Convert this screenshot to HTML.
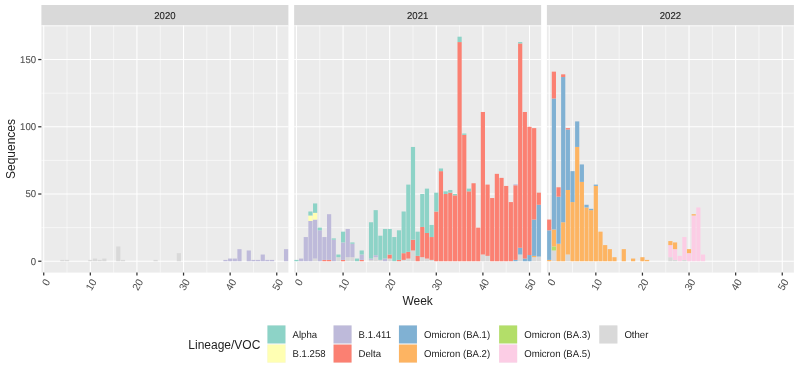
<!DOCTYPE html>
<html><head><meta charset="utf-8"><style>
html,body{margin:0;padding:0;background:#fff;}
body{width:800px;height:375px;position:relative;overflow:hidden;font-family:"Liberation Sans",sans-serif;}
svg text{font-family:"Liberation Sans",sans-serif;}
</style></head><body>
<svg width="800" height="375" viewBox="0 0 800 375" style="position:absolute;left:0;top:0;filter:blur(0.45px)">
<rect x="41.40" y="5.0" width="247.0" height="20.40" fill="#D9D9D9"/>
<rect x="41.40" y="25.4" width="247.0" height="247.20" fill="#EBEBEB"/>
<line x1="41.40" x2="288.40" y1="227.62" y2="227.62" stroke="#fff" stroke-width="0.55"/>
<line x1="41.40" x2="288.40" y1="160.40" y2="160.40" stroke="#fff" stroke-width="0.55"/>
<line x1="41.40" x2="288.40" y1="93.17" y2="93.17" stroke="#fff" stroke-width="0.55"/>
<line x1="41.40" x2="288.40" y1="25.94" y2="25.94" stroke="#fff" stroke-width="0.55"/>
<line x1="67.03" x2="67.03" y1="25.4" y2="272.6" stroke="#fff" stroke-width="0.55"/>
<line x1="113.64" x2="113.64" y1="25.4" y2="272.6" stroke="#fff" stroke-width="0.55"/>
<line x1="160.24" x2="160.24" y1="25.4" y2="272.6" stroke="#fff" stroke-width="0.55"/>
<line x1="206.84" x2="206.84" y1="25.4" y2="272.6" stroke="#fff" stroke-width="0.55"/>
<line x1="253.45" x2="253.45" y1="25.4" y2="272.6" stroke="#fff" stroke-width="0.55"/>
<line x1="41.40" x2="288.40" y1="261.24" y2="261.24" stroke="#fff" stroke-width="1.07"/>
<line x1="41.40" x2="288.40" y1="194.01" y2="194.01" stroke="#fff" stroke-width="1.07"/>
<line x1="41.40" x2="288.40" y1="126.78" y2="126.78" stroke="#fff" stroke-width="1.07"/>
<line x1="41.40" x2="288.40" y1="59.55" y2="59.55" stroke="#fff" stroke-width="1.07"/>
<line x1="43.73" x2="43.73" y1="25.4" y2="272.6" stroke="#fff" stroke-width="1.07"/>
<line x1="90.33" x2="90.33" y1="25.4" y2="272.6" stroke="#fff" stroke-width="1.07"/>
<line x1="136.94" x2="136.94" y1="25.4" y2="272.6" stroke="#fff" stroke-width="1.07"/>
<line x1="183.54" x2="183.54" y1="25.4" y2="272.6" stroke="#fff" stroke-width="1.07"/>
<line x1="230.15" x2="230.15" y1="25.4" y2="272.6" stroke="#fff" stroke-width="1.07"/>
<line x1="276.75" x2="276.75" y1="25.4" y2="272.6" stroke="#fff" stroke-width="1.07"/>
<rect x="60.27" y="259.90" width="4.19" height="1.34" fill="#D9D9D9"/>
<rect x="64.93" y="259.90" width="4.19" height="1.34" fill="#D9D9D9"/>
<rect x="88.24" y="259.90" width="4.19" height="1.34" fill="#D9D9D9"/>
<rect x="92.90" y="258.55" width="4.19" height="2.69" fill="#D9D9D9"/>
<rect x="97.56" y="259.90" width="4.19" height="1.34" fill="#D9D9D9"/>
<rect x="102.22" y="258.55" width="4.19" height="2.69" fill="#D9D9D9"/>
<rect x="116.20" y="246.45" width="4.19" height="14.79" fill="#D9D9D9"/>
<rect x="120.86" y="259.90" width="4.19" height="1.34" fill="#D9D9D9"/>
<rect x="153.48" y="259.90" width="4.19" height="1.34" fill="#D9D9D9"/>
<rect x="176.78" y="253.17" width="4.19" height="8.07" fill="#D9D9D9"/>
<rect x="223.39" y="259.90" width="4.19" height="1.34" fill="#BEBADA"/>
<rect x="228.05" y="258.55" width="4.19" height="2.69" fill="#BEBADA"/>
<rect x="232.71" y="258.55" width="4.19" height="2.69" fill="#BEBADA"/>
<rect x="237.37" y="249.14" width="4.19" height="12.10" fill="#BEBADA"/>
<rect x="246.69" y="250.48" width="4.19" height="10.76" fill="#BEBADA"/>
<rect x="251.35" y="259.90" width="4.19" height="1.34" fill="#BEBADA"/>
<rect x="256.01" y="259.90" width="4.19" height="1.34" fill="#BEBADA"/>
<rect x="260.67" y="254.52" width="4.19" height="6.72" fill="#BEBADA"/>
<rect x="265.33" y="259.90" width="4.19" height="1.34" fill="#BEBADA"/>
<rect x="269.99" y="259.90" width="4.19" height="1.34" fill="#BEBADA"/>
<rect x="283.97" y="249.14" width="4.19" height="12.10" fill="#BEBADA"/>
<g transform="translate(164.90,18.60) scale(0.97,1) skewX(0.1)"><text x="0" y="0" font-size="9.9" fill="#1A1A1A" stroke="#1A1A1A" stroke-width="0.1" text-anchor="middle" >2020</text></g>
<line x1="43.73" x2="43.73" y1="272.6" y2="275.60" stroke="#333" stroke-width="1.25"/>
<g transform="translate(44.13,278.00) rotate(-60) scale(0.97,1) skewX(0.1)"><text x="0" y="0" font-size="10.4" fill="#4D4D4D" stroke="#4D4D4D" stroke-width="0" text-anchor="end" dominant-baseline="hanging">0</text></g>
<line x1="90.33" x2="90.33" y1="272.6" y2="275.60" stroke="#333" stroke-width="1.25"/>
<g transform="translate(90.73,278.00) rotate(-60) scale(0.97,1) skewX(0.1)"><text x="0" y="0" font-size="10.4" fill="#4D4D4D" stroke="#4D4D4D" stroke-width="0" text-anchor="end" dominant-baseline="hanging">10</text></g>
<line x1="136.94" x2="136.94" y1="272.6" y2="275.60" stroke="#333" stroke-width="1.25"/>
<g transform="translate(137.34,278.00) rotate(-60) scale(0.97,1) skewX(0.1)"><text x="0" y="0" font-size="10.4" fill="#4D4D4D" stroke="#4D4D4D" stroke-width="0" text-anchor="end" dominant-baseline="hanging">20</text></g>
<line x1="183.54" x2="183.54" y1="272.6" y2="275.60" stroke="#333" stroke-width="1.25"/>
<g transform="translate(183.94,278.00) rotate(-60) scale(0.97,1) skewX(0.1)"><text x="0" y="0" font-size="10.4" fill="#4D4D4D" stroke="#4D4D4D" stroke-width="0" text-anchor="end" dominant-baseline="hanging">30</text></g>
<line x1="230.15" x2="230.15" y1="272.6" y2="275.60" stroke="#333" stroke-width="1.25"/>
<g transform="translate(230.55,278.00) rotate(-60) scale(0.97,1) skewX(0.1)"><text x="0" y="0" font-size="10.4" fill="#4D4D4D" stroke="#4D4D4D" stroke-width="0" text-anchor="end" dominant-baseline="hanging">40</text></g>
<line x1="276.75" x2="276.75" y1="272.6" y2="275.60" stroke="#333" stroke-width="1.25"/>
<g transform="translate(277.15,278.00) rotate(-60) scale(0.97,1) skewX(0.1)"><text x="0" y="0" font-size="10.4" fill="#4D4D4D" stroke="#4D4D4D" stroke-width="0" text-anchor="end" dominant-baseline="hanging">50</text></g>
<rect x="294.15" y="5.0" width="247.0" height="20.40" fill="#D9D9D9"/>
<rect x="294.15" y="25.4" width="247.0" height="247.20" fill="#EBEBEB"/>
<line x1="294.15" x2="541.15" y1="227.62" y2="227.62" stroke="#fff" stroke-width="0.55"/>
<line x1="294.15" x2="541.15" y1="160.40" y2="160.40" stroke="#fff" stroke-width="0.55"/>
<line x1="294.15" x2="541.15" y1="93.17" y2="93.17" stroke="#fff" stroke-width="0.55"/>
<line x1="294.15" x2="541.15" y1="25.94" y2="25.94" stroke="#fff" stroke-width="0.55"/>
<line x1="319.78" x2="319.78" y1="25.4" y2="272.6" stroke="#fff" stroke-width="0.55"/>
<line x1="366.39" x2="366.39" y1="25.4" y2="272.6" stroke="#fff" stroke-width="0.55"/>
<line x1="412.99" x2="412.99" y1="25.4" y2="272.6" stroke="#fff" stroke-width="0.55"/>
<line x1="459.59" x2="459.59" y1="25.4" y2="272.6" stroke="#fff" stroke-width="0.55"/>
<line x1="506.20" x2="506.20" y1="25.4" y2="272.6" stroke="#fff" stroke-width="0.55"/>
<line x1="294.15" x2="541.15" y1="261.24" y2="261.24" stroke="#fff" stroke-width="1.07"/>
<line x1="294.15" x2="541.15" y1="194.01" y2="194.01" stroke="#fff" stroke-width="1.07"/>
<line x1="294.15" x2="541.15" y1="126.78" y2="126.78" stroke="#fff" stroke-width="1.07"/>
<line x1="294.15" x2="541.15" y1="59.55" y2="59.55" stroke="#fff" stroke-width="1.07"/>
<line x1="296.48" x2="296.48" y1="25.4" y2="272.6" stroke="#fff" stroke-width="1.07"/>
<line x1="343.08" x2="343.08" y1="25.4" y2="272.6" stroke="#fff" stroke-width="1.07"/>
<line x1="389.69" x2="389.69" y1="25.4" y2="272.6" stroke="#fff" stroke-width="1.07"/>
<line x1="436.29" x2="436.29" y1="25.4" y2="272.6" stroke="#fff" stroke-width="1.07"/>
<line x1="482.90" x2="482.90" y1="25.4" y2="272.6" stroke="#fff" stroke-width="1.07"/>
<line x1="529.50" x2="529.50" y1="25.4" y2="272.6" stroke="#fff" stroke-width="1.07"/>
<rect x="294.38" y="259.90" width="4.19" height="1.34" fill="#8DD3C7"/>
<rect x="299.04" y="258.55" width="4.19" height="2.69" fill="#BEBADA"/>
<rect x="303.70" y="237.04" width="4.19" height="24.20" fill="#BEBADA"/>
<rect x="308.36" y="220.90" width="4.19" height="40.34" fill="#BEBADA"/>
<rect x="308.36" y="215.52" width="4.19" height="5.38" fill="#FFFFB3"/>
<rect x="308.36" y="211.49" width="4.19" height="4.03" fill="#8DD3C7"/>
<rect x="313.02" y="258.55" width="4.19" height="2.69" fill="#D9D9D9"/>
<rect x="313.02" y="219.56" width="4.19" height="38.99" fill="#BEBADA"/>
<rect x="313.02" y="212.83" width="4.19" height="6.72" fill="#FFFFB3"/>
<rect x="313.02" y="203.42" width="4.19" height="9.41" fill="#8DD3C7"/>
<rect x="317.68" y="230.31" width="4.19" height="30.93" fill="#BEBADA"/>
<rect x="317.68" y="227.62" width="4.19" height="2.69" fill="#8DD3C7"/>
<rect x="322.35" y="259.90" width="4.19" height="1.34" fill="#FB8072"/>
<rect x="322.35" y="237.04" width="4.19" height="22.86" fill="#BEBADA"/>
<rect x="327.01" y="259.90" width="4.19" height="1.34" fill="#FB8072"/>
<rect x="327.01" y="214.18" width="4.19" height="45.72" fill="#BEBADA"/>
<rect x="331.67" y="239.73" width="4.19" height="21.51" fill="#BEBADA"/>
<rect x="331.67" y="238.38" width="4.19" height="1.34" fill="#8DD3C7"/>
<rect x="336.33" y="257.21" width="4.19" height="4.03" fill="#D9D9D9"/>
<rect x="336.33" y="254.52" width="4.19" height="2.69" fill="#8DD3C7"/>
<rect x="340.99" y="259.90" width="4.19" height="1.34" fill="#FB8072"/>
<rect x="340.99" y="242.42" width="4.19" height="17.48" fill="#BEBADA"/>
<rect x="340.99" y="231.66" width="4.19" height="10.76" fill="#8DD3C7"/>
<rect x="345.65" y="257.21" width="4.19" height="4.03" fill="#D9D9D9"/>
<rect x="345.65" y="228.97" width="4.19" height="28.24" fill="#BEBADA"/>
<rect x="350.31" y="257.21" width="4.19" height="4.03" fill="#D9D9D9"/>
<rect x="350.31" y="243.76" width="4.19" height="13.45" fill="#BEBADA"/>
<rect x="350.31" y="242.42" width="4.19" height="1.34" fill="#8DD3C7"/>
<rect x="354.97" y="258.55" width="4.19" height="2.69" fill="#8DD3C7"/>
<rect x="359.63" y="259.90" width="4.19" height="1.34" fill="#FB8072"/>
<rect x="359.63" y="254.52" width="4.19" height="5.38" fill="#BEBADA"/>
<rect x="359.63" y="250.48" width="4.19" height="4.03" fill="#8DD3C7"/>
<rect x="368.95" y="259.90" width="4.19" height="1.34" fill="#D9D9D9"/>
<rect x="368.95" y="258.55" width="4.19" height="1.34" fill="#BEBADA"/>
<rect x="368.95" y="222.25" width="4.19" height="36.30" fill="#8DD3C7"/>
<rect x="373.61" y="257.21" width="4.19" height="4.03" fill="#D9D9D9"/>
<rect x="373.61" y="255.19" width="4.19" height="2.02" fill="#BEBADA"/>
<rect x="373.61" y="210.15" width="4.19" height="45.04" fill="#8DD3C7"/>
<rect x="378.27" y="259.90" width="4.19" height="1.34" fill="#D9D9D9"/>
<rect x="378.27" y="235.69" width="4.19" height="24.20" fill="#8DD3C7"/>
<rect x="382.93" y="258.55" width="4.19" height="2.69" fill="#BEBADA"/>
<rect x="382.93" y="228.97" width="4.19" height="29.58" fill="#8DD3C7"/>
<rect x="387.59" y="258.55" width="4.19" height="2.69" fill="#D9D9D9"/>
<rect x="387.59" y="254.52" width="4.19" height="4.03" fill="#FB8072"/>
<rect x="387.59" y="228.97" width="4.19" height="25.55" fill="#8DD3C7"/>
<rect x="392.25" y="237.04" width="4.19" height="24.20" fill="#8DD3C7"/>
<rect x="396.91" y="259.90" width="4.19" height="1.34" fill="#FB8072"/>
<rect x="396.91" y="230.31" width="4.19" height="29.58" fill="#8DD3C7"/>
<rect x="401.57" y="259.90" width="4.19" height="1.34" fill="#D9D9D9"/>
<rect x="401.57" y="253.17" width="4.19" height="6.72" fill="#FB8072"/>
<rect x="401.57" y="211.49" width="4.19" height="41.68" fill="#8DD3C7"/>
<rect x="406.23" y="258.55" width="4.19" height="2.69" fill="#D9D9D9"/>
<rect x="406.23" y="251.83" width="4.19" height="6.72" fill="#FB8072"/>
<rect x="406.23" y="184.60" width="4.19" height="67.23" fill="#8DD3C7"/>
<rect x="410.89" y="250.48" width="4.19" height="10.76" fill="#D9D9D9"/>
<rect x="410.89" y="239.73" width="4.19" height="10.76" fill="#FB8072"/>
<rect x="410.89" y="146.95" width="4.19" height="92.78" fill="#8DD3C7"/>
<rect x="415.55" y="255.86" width="4.19" height="5.38" fill="#FB8072"/>
<rect x="415.55" y="231.66" width="4.19" height="24.20" fill="#8DD3C7"/>
<rect x="420.21" y="257.21" width="4.19" height="4.03" fill="#D9D9D9"/>
<rect x="420.21" y="226.95" width="4.19" height="30.25" fill="#FB8072"/>
<rect x="420.21" y="194.01" width="4.19" height="32.94" fill="#8DD3C7"/>
<rect x="424.87" y="258.55" width="4.19" height="2.69" fill="#D9D9D9"/>
<rect x="424.87" y="233.00" width="4.19" height="25.55" fill="#FB8072"/>
<rect x="424.87" y="188.63" width="4.19" height="44.37" fill="#8DD3C7"/>
<rect x="429.53" y="259.90" width="4.19" height="1.34" fill="#D9D9D9"/>
<rect x="429.53" y="237.04" width="4.19" height="22.86" fill="#FB8072"/>
<rect x="429.53" y="224.94" width="4.19" height="12.10" fill="#8DD3C7"/>
<rect x="434.19" y="211.49" width="4.19" height="49.75" fill="#FB8072"/>
<rect x="434.19" y="192.67" width="4.19" height="18.82" fill="#8DD3C7"/>
<rect x="438.85" y="171.15" width="4.19" height="90.09" fill="#FB8072"/>
<rect x="438.85" y="168.46" width="4.19" height="2.69" fill="#8DD3C7"/>
<rect x="443.52" y="194.01" width="4.19" height="67.23" fill="#FB8072"/>
<rect x="443.52" y="191.32" width="4.19" height="2.69" fill="#8DD3C7"/>
<rect x="448.18" y="192.67" width="4.19" height="68.57" fill="#FB8072"/>
<rect x="448.18" y="189.98" width="4.19" height="2.69" fill="#8DD3C7"/>
<rect x="452.84" y="195.35" width="4.19" height="65.89" fill="#FB8072"/>
<rect x="452.84" y="194.01" width="4.19" height="1.34" fill="#8DD3C7"/>
<rect x="457.50" y="42.07" width="4.19" height="219.17" fill="#FB8072"/>
<rect x="457.50" y="36.69" width="4.19" height="5.38" fill="#8DD3C7"/>
<rect x="462.16" y="134.85" width="4.19" height="126.39" fill="#FB8072"/>
<rect x="462.16" y="133.50" width="4.19" height="1.34" fill="#8DD3C7"/>
<rect x="466.82" y="191.32" width="4.19" height="69.92" fill="#FB8072"/>
<rect x="466.82" y="188.63" width="4.19" height="2.69" fill="#8DD3C7"/>
<rect x="471.48" y="183.25" width="4.19" height="77.99" fill="#FB8072"/>
<rect x="476.14" y="227.62" width="4.19" height="33.62" fill="#FB8072"/>
<rect x="480.80" y="254.52" width="4.19" height="6.72" fill="#D9D9D9"/>
<rect x="480.80" y="111.99" width="4.19" height="142.53" fill="#FB8072"/>
<rect x="485.46" y="255.86" width="4.19" height="5.38" fill="#D9D9D9"/>
<rect x="485.46" y="184.60" width="4.19" height="71.26" fill="#FB8072"/>
<rect x="490.12" y="198.04" width="4.19" height="63.20" fill="#FB8072"/>
<rect x="494.78" y="173.84" width="4.19" height="87.40" fill="#FB8072"/>
<rect x="499.44" y="177.87" width="4.19" height="83.37" fill="#FB8072"/>
<rect x="504.10" y="185.94" width="4.19" height="75.30" fill="#FB8072"/>
<rect x="508.76" y="202.08" width="4.19" height="59.16" fill="#FB8072"/>
<rect x="513.42" y="259.90" width="4.19" height="1.34" fill="#80B1D3"/>
<rect x="513.42" y="185.27" width="4.19" height="74.63" fill="#FB8072"/>
<rect x="513.42" y="184.33" width="4.19" height="0.94" fill="#BEBADA"/>
<rect x="518.08" y="254.52" width="4.19" height="6.72" fill="#D9D9D9"/>
<rect x="518.08" y="247.79" width="4.19" height="6.72" fill="#80B1D3"/>
<rect x="518.08" y="43.41" width="4.19" height="204.38" fill="#FB8072"/>
<rect x="518.08" y="42.07" width="4.19" height="1.34" fill="#8DD3C7"/>
<rect x="522.74" y="258.55" width="4.19" height="2.69" fill="#80B1D3"/>
<rect x="522.74" y="111.99" width="4.19" height="146.56" fill="#FB8072"/>
<rect x="527.40" y="255.05" width="4.19" height="6.19" fill="#80B1D3"/>
<rect x="527.40" y="126.78" width="4.19" height="128.27" fill="#FB8072"/>
<rect x="532.06" y="257.21" width="4.19" height="4.03" fill="#D9D9D9"/>
<rect x="532.06" y="255.86" width="4.19" height="1.34" fill="#FDB462"/>
<rect x="532.06" y="219.56" width="4.19" height="36.30" fill="#80B1D3"/>
<rect x="532.06" y="128.12" width="4.19" height="91.43" fill="#FB8072"/>
<rect x="536.72" y="256.53" width="4.19" height="4.71" fill="#D9D9D9"/>
<rect x="536.72" y="204.77" width="4.19" height="51.77" fill="#80B1D3"/>
<rect x="536.72" y="192.67" width="4.19" height="12.10" fill="#FB8072"/>
<g transform="translate(417.65,18.60) scale(0.97,1) skewX(0.1)"><text x="0" y="0" font-size="9.9" fill="#1A1A1A" stroke="#1A1A1A" stroke-width="0.1" text-anchor="middle" >2021</text></g>
<line x1="296.48" x2="296.48" y1="272.6" y2="275.60" stroke="#333" stroke-width="1.25"/>
<g transform="translate(296.88,278.00) rotate(-60) scale(0.97,1) skewX(0.1)"><text x="0" y="0" font-size="10.4" fill="#4D4D4D" stroke="#4D4D4D" stroke-width="0" text-anchor="end" dominant-baseline="hanging">0</text></g>
<line x1="343.08" x2="343.08" y1="272.6" y2="275.60" stroke="#333" stroke-width="1.25"/>
<g transform="translate(343.48,278.00) rotate(-60) scale(0.97,1) skewX(0.1)"><text x="0" y="0" font-size="10.4" fill="#4D4D4D" stroke="#4D4D4D" stroke-width="0" text-anchor="end" dominant-baseline="hanging">10</text></g>
<line x1="389.69" x2="389.69" y1="272.6" y2="275.60" stroke="#333" stroke-width="1.25"/>
<g transform="translate(390.09,278.00) rotate(-60) scale(0.97,1) skewX(0.1)"><text x="0" y="0" font-size="10.4" fill="#4D4D4D" stroke="#4D4D4D" stroke-width="0" text-anchor="end" dominant-baseline="hanging">20</text></g>
<line x1="436.29" x2="436.29" y1="272.6" y2="275.60" stroke="#333" stroke-width="1.25"/>
<g transform="translate(436.69,278.00) rotate(-60) scale(0.97,1) skewX(0.1)"><text x="0" y="0" font-size="10.4" fill="#4D4D4D" stroke="#4D4D4D" stroke-width="0" text-anchor="end" dominant-baseline="hanging">30</text></g>
<line x1="482.90" x2="482.90" y1="272.6" y2="275.60" stroke="#333" stroke-width="1.25"/>
<g transform="translate(483.30,278.00) rotate(-60) scale(0.97,1) skewX(0.1)"><text x="0" y="0" font-size="10.4" fill="#4D4D4D" stroke="#4D4D4D" stroke-width="0" text-anchor="end" dominant-baseline="hanging">40</text></g>
<line x1="529.50" x2="529.50" y1="272.6" y2="275.60" stroke="#333" stroke-width="1.25"/>
<g transform="translate(529.90,278.00) rotate(-60) scale(0.97,1) skewX(0.1)"><text x="0" y="0" font-size="10.4" fill="#4D4D4D" stroke="#4D4D4D" stroke-width="0" text-anchor="end" dominant-baseline="hanging">50</text></g>
<rect x="546.90" y="5.0" width="247.0" height="20.40" fill="#D9D9D9"/>
<rect x="546.90" y="25.4" width="247.0" height="247.20" fill="#EBEBEB"/>
<line x1="546.90" x2="793.90" y1="227.62" y2="227.62" stroke="#fff" stroke-width="0.55"/>
<line x1="546.90" x2="793.90" y1="160.40" y2="160.40" stroke="#fff" stroke-width="0.55"/>
<line x1="546.90" x2="793.90" y1="93.17" y2="93.17" stroke="#fff" stroke-width="0.55"/>
<line x1="546.90" x2="793.90" y1="25.94" y2="25.94" stroke="#fff" stroke-width="0.55"/>
<line x1="572.53" x2="572.53" y1="25.4" y2="272.6" stroke="#fff" stroke-width="0.55"/>
<line x1="619.14" x2="619.14" y1="25.4" y2="272.6" stroke="#fff" stroke-width="0.55"/>
<line x1="665.74" x2="665.74" y1="25.4" y2="272.6" stroke="#fff" stroke-width="0.55"/>
<line x1="712.34" x2="712.34" y1="25.4" y2="272.6" stroke="#fff" stroke-width="0.55"/>
<line x1="758.95" x2="758.95" y1="25.4" y2="272.6" stroke="#fff" stroke-width="0.55"/>
<line x1="546.90" x2="793.90" y1="261.24" y2="261.24" stroke="#fff" stroke-width="1.07"/>
<line x1="546.90" x2="793.90" y1="194.01" y2="194.01" stroke="#fff" stroke-width="1.07"/>
<line x1="546.90" x2="793.90" y1="126.78" y2="126.78" stroke="#fff" stroke-width="1.07"/>
<line x1="546.90" x2="793.90" y1="59.55" y2="59.55" stroke="#fff" stroke-width="1.07"/>
<line x1="549.23" x2="549.23" y1="25.4" y2="272.6" stroke="#fff" stroke-width="1.07"/>
<line x1="595.83" x2="595.83" y1="25.4" y2="272.6" stroke="#fff" stroke-width="1.07"/>
<line x1="642.44" x2="642.44" y1="25.4" y2="272.6" stroke="#fff" stroke-width="1.07"/>
<line x1="689.04" x2="689.04" y1="25.4" y2="272.6" stroke="#fff" stroke-width="1.07"/>
<line x1="735.65" x2="735.65" y1="25.4" y2="272.6" stroke="#fff" stroke-width="1.07"/>
<line x1="782.25" x2="782.25" y1="25.4" y2="272.6" stroke="#fff" stroke-width="1.07"/>
<rect x="547.13" y="259.90" width="4.19" height="1.34" fill="#FDB462"/>
<rect x="547.13" y="230.31" width="4.19" height="29.58" fill="#80B1D3"/>
<rect x="547.13" y="219.56" width="4.19" height="10.76" fill="#FB8072"/>
<rect x="551.79" y="250.48" width="4.19" height="10.76" fill="#D9D9D9"/>
<rect x="551.79" y="246.45" width="4.19" height="4.03" fill="#B3DE69"/>
<rect x="551.79" y="229.51" width="4.19" height="16.94" fill="#FDB462"/>
<rect x="551.79" y="98.54" width="4.19" height="130.96" fill="#80B1D3"/>
<rect x="551.79" y="71.65" width="4.19" height="26.89" fill="#FB8072"/>
<rect x="556.45" y="243.76" width="4.19" height="17.48" fill="#FDB462"/>
<rect x="556.45" y="196.70" width="4.19" height="47.06" fill="#80B1D3"/>
<rect x="556.45" y="187.29" width="4.19" height="9.41" fill="#FB8072"/>
<rect x="561.11" y="222.25" width="4.19" height="38.99" fill="#FDB462"/>
<rect x="561.11" y="77.03" width="4.19" height="145.22" fill="#80B1D3"/>
<rect x="561.11" y="74.34" width="4.19" height="2.69" fill="#FB8072"/>
<rect x="565.77" y="254.52" width="4.19" height="6.72" fill="#D9D9D9"/>
<rect x="565.77" y="189.98" width="4.19" height="64.54" fill="#FDB462"/>
<rect x="565.77" y="129.47" width="4.19" height="60.51" fill="#80B1D3"/>
<rect x="565.77" y="128.12" width="4.19" height="1.34" fill="#FB8072"/>
<rect x="570.43" y="202.08" width="4.19" height="59.16" fill="#FDB462"/>
<rect x="570.43" y="171.15" width="4.19" height="30.93" fill="#80B1D3"/>
<rect x="575.10" y="146.95" width="4.19" height="114.29" fill="#FDB462"/>
<rect x="575.10" y="121.40" width="4.19" height="25.55" fill="#80B1D3"/>
<rect x="579.76" y="181.91" width="4.19" height="79.33" fill="#FDB462"/>
<rect x="579.76" y="164.43" width="4.19" height="17.48" fill="#80B1D3"/>
<rect x="584.42" y="207.46" width="4.19" height="53.78" fill="#FDB462"/>
<rect x="584.42" y="204.77" width="4.19" height="2.69" fill="#80B1D3"/>
<rect x="589.08" y="210.15" width="4.19" height="51.09" fill="#FDB462"/>
<rect x="589.08" y="208.80" width="4.19" height="1.34" fill="#80B1D3"/>
<rect x="593.74" y="185.94" width="4.19" height="75.30" fill="#FDB462"/>
<rect x="593.74" y="184.60" width="4.19" height="1.34" fill="#80B1D3"/>
<rect x="598.40" y="231.66" width="4.19" height="29.58" fill="#FDB462"/>
<rect x="603.06" y="245.10" width="4.19" height="16.14" fill="#FDB462"/>
<rect x="607.72" y="249.14" width="4.19" height="12.10" fill="#FDB462"/>
<rect x="612.38" y="257.21" width="4.19" height="4.03" fill="#FDB462"/>
<rect x="621.70" y="249.14" width="4.19" height="12.10" fill="#FDB462"/>
<rect x="631.02" y="258.55" width="4.19" height="2.69" fill="#FDB462"/>
<rect x="640.34" y="257.21" width="4.19" height="4.03" fill="#FDB462"/>
<rect x="645.00" y="259.90" width="4.19" height="1.34" fill="#FDB462"/>
<rect x="668.30" y="257.21" width="4.19" height="4.03" fill="#D9D9D9"/>
<rect x="668.30" y="245.10" width="4.19" height="12.10" fill="#FCCDE5"/>
<rect x="668.30" y="241.07" width="4.19" height="4.03" fill="#FDB462"/>
<rect x="672.96" y="259.90" width="4.19" height="1.34" fill="#D9D9D9"/>
<rect x="672.96" y="249.14" width="4.19" height="10.76" fill="#FCCDE5"/>
<rect x="672.96" y="242.42" width="4.19" height="6.72" fill="#FDB462"/>
<rect x="677.62" y="255.86" width="4.19" height="5.38" fill="#FCCDE5"/>
<rect x="682.28" y="259.90" width="4.19" height="1.34" fill="#D9D9D9"/>
<rect x="682.28" y="237.04" width="4.19" height="22.86" fill="#FCCDE5"/>
<rect x="686.94" y="253.17" width="4.19" height="8.07" fill="#FCCDE5"/>
<rect x="686.94" y="249.14" width="4.19" height="4.03" fill="#FDB462"/>
<rect x="691.60" y="215.52" width="4.19" height="45.72" fill="#FCCDE5"/>
<rect x="691.60" y="214.18" width="4.19" height="1.34" fill="#FDB462"/>
<rect x="696.27" y="207.46" width="4.19" height="53.78" fill="#FCCDE5"/>
<rect x="700.93" y="254.52" width="4.19" height="6.72" fill="#FCCDE5"/>
<g transform="translate(670.40,18.60) scale(0.97,1) skewX(0.1)"><text x="0" y="0" font-size="9.9" fill="#1A1A1A" stroke="#1A1A1A" stroke-width="0.1" text-anchor="middle" >2022</text></g>
<line x1="549.23" x2="549.23" y1="272.6" y2="275.60" stroke="#333" stroke-width="1.25"/>
<g transform="translate(549.63,278.00) rotate(-60) scale(0.97,1) skewX(0.1)"><text x="0" y="0" font-size="10.4" fill="#4D4D4D" stroke="#4D4D4D" stroke-width="0" text-anchor="end" dominant-baseline="hanging">0</text></g>
<line x1="595.83" x2="595.83" y1="272.6" y2="275.60" stroke="#333" stroke-width="1.25"/>
<g transform="translate(596.23,278.00) rotate(-60) scale(0.97,1) skewX(0.1)"><text x="0" y="0" font-size="10.4" fill="#4D4D4D" stroke="#4D4D4D" stroke-width="0" text-anchor="end" dominant-baseline="hanging">10</text></g>
<line x1="642.44" x2="642.44" y1="272.6" y2="275.60" stroke="#333" stroke-width="1.25"/>
<g transform="translate(642.84,278.00) rotate(-60) scale(0.97,1) skewX(0.1)"><text x="0" y="0" font-size="10.4" fill="#4D4D4D" stroke="#4D4D4D" stroke-width="0" text-anchor="end" dominant-baseline="hanging">20</text></g>
<line x1="689.04" x2="689.04" y1="272.6" y2="275.60" stroke="#333" stroke-width="1.25"/>
<g transform="translate(689.44,278.00) rotate(-60) scale(0.97,1) skewX(0.1)"><text x="0" y="0" font-size="10.4" fill="#4D4D4D" stroke="#4D4D4D" stroke-width="0" text-anchor="end" dominant-baseline="hanging">30</text></g>
<line x1="735.65" x2="735.65" y1="272.6" y2="275.60" stroke="#333" stroke-width="1.25"/>
<g transform="translate(736.05,278.00) rotate(-60) scale(0.97,1) skewX(0.1)"><text x="0" y="0" font-size="10.4" fill="#4D4D4D" stroke="#4D4D4D" stroke-width="0" text-anchor="end" dominant-baseline="hanging">40</text></g>
<line x1="782.25" x2="782.25" y1="272.6" y2="275.60" stroke="#333" stroke-width="1.25"/>
<g transform="translate(782.65,278.00) rotate(-60) scale(0.97,1) skewX(0.1)"><text x="0" y="0" font-size="10.4" fill="#4D4D4D" stroke="#4D4D4D" stroke-width="0" text-anchor="end" dominant-baseline="hanging">50</text></g>
<line x1="38.20" x2="41.40" y1="261.24" y2="261.24" stroke="#333" stroke-width="1.25"/>
<g transform="translate(36.10,264.64) scale(0.97,1) skewX(0.1)"><text x="0" y="0" font-size="9.9" fill="#4D4D4D" stroke="#4D4D4D" stroke-width="0.1" text-anchor="end" >0</text></g>
<line x1="38.20" x2="41.40" y1="194.01" y2="194.01" stroke="#333" stroke-width="1.25"/>
<g transform="translate(36.10,197.41) scale(0.97,1) skewX(0.1)"><text x="0" y="0" font-size="9.9" fill="#4D4D4D" stroke="#4D4D4D" stroke-width="0.1" text-anchor="end" >50</text></g>
<line x1="38.20" x2="41.40" y1="126.78" y2="126.78" stroke="#333" stroke-width="1.25"/>
<g transform="translate(36.10,130.18) scale(0.97,1) skewX(0.1)"><text x="0" y="0" font-size="9.9" fill="#4D4D4D" stroke="#4D4D4D" stroke-width="0.1" text-anchor="end" >100</text></g>
<line x1="38.20" x2="41.40" y1="59.55" y2="59.55" stroke="#333" stroke-width="1.25"/>
<g transform="translate(36.10,62.95) scale(0.97,1) skewX(0.1)"><text x="0" y="0" font-size="9.9" fill="#4D4D4D" stroke="#4D4D4D" stroke-width="0.1" text-anchor="end" >150</text></g>
<text x="417.65" y="304.6" font-size="12" fill="#222" text-anchor="middle">Week</text>
<text transform="translate(14.9,149) rotate(-90)" font-size="12" fill="#222" text-anchor="middle">Sequences</text>
<text x="188.3" y="348.7" font-size="12" fill="#222">Lineage/VOC</text>
<rect x="267.3" y="325.3" width="18.3" height="18.3" fill="#F2F2F2"/>
<rect x="267.45" y="325.45" width="18.0" height="18.0" fill="#8DD3C7"/>
<g transform="translate(292.50,338.20) scale(0.97,1) skewX(0.1)"><text x="0" y="0" font-size="9.9" fill="#222" stroke="#222" stroke-width="0" text-anchor="start" >Alpha</text></g>
<rect x="267.3" y="344.4" width="18.3" height="18.3" fill="#F2F2F2"/>
<rect x="267.45" y="344.54999999999995" width="18.0" height="18.0" fill="#FFFFB3"/>
<g transform="translate(292.50,356.90) scale(0.97,1) skewX(0.1)"><text x="0" y="0" font-size="9.9" fill="#222" stroke="#222" stroke-width="0" text-anchor="start" >B.1.258</text></g>
<rect x="333.4" y="325.3" width="18.3" height="18.3" fill="#F2F2F2"/>
<rect x="333.54999999999995" y="325.45" width="18.0" height="18.0" fill="#BEBADA"/>
<g transform="translate(358.60,338.20) scale(0.97,1) skewX(0.1)"><text x="0" y="0" font-size="9.9" fill="#222" stroke="#222" stroke-width="0" text-anchor="start" >B.1.411</text></g>
<rect x="333.4" y="344.4" width="18.3" height="18.3" fill="#F2F2F2"/>
<rect x="333.54999999999995" y="344.54999999999995" width="18.0" height="18.0" fill="#FB8072"/>
<g transform="translate(358.60,356.90) scale(0.97,1) skewX(0.1)"><text x="0" y="0" font-size="9.9" fill="#222" stroke="#222" stroke-width="0" text-anchor="start" >Delta</text></g>
<rect x="398.8" y="325.3" width="18.3" height="18.3" fill="#F2F2F2"/>
<rect x="398.95" y="325.45" width="18.0" height="18.0" fill="#80B1D3"/>
<g transform="translate(424.00,338.20) scale(0.97,1) skewX(0.1)"><text x="0" y="0" font-size="9.9" fill="#222" stroke="#222" stroke-width="0" text-anchor="start" >Omicron (BA.1)</text></g>
<rect x="398.8" y="344.4" width="18.3" height="18.3" fill="#F2F2F2"/>
<rect x="398.95" y="344.54999999999995" width="18.0" height="18.0" fill="#FDB462"/>
<g transform="translate(424.00,356.90) scale(0.97,1) skewX(0.1)"><text x="0" y="0" font-size="9.9" fill="#222" stroke="#222" stroke-width="0" text-anchor="start" >Omicron (BA.2)</text></g>
<rect x="499.0" y="325.3" width="18.3" height="18.3" fill="#F2F2F2"/>
<rect x="499.15" y="325.45" width="18.0" height="18.0" fill="#B3DE69"/>
<g transform="translate(524.20,338.20) scale(0.97,1) skewX(0.1)"><text x="0" y="0" font-size="9.9" fill="#222" stroke="#222" stroke-width="0" text-anchor="start" >Omicron (BA.3)</text></g>
<rect x="499.0" y="344.4" width="18.3" height="18.3" fill="#F2F2F2"/>
<rect x="499.15" y="344.54999999999995" width="18.0" height="18.0" fill="#FCCDE5"/>
<g transform="translate(524.20,356.90) scale(0.97,1) skewX(0.1)"><text x="0" y="0" font-size="9.9" fill="#222" stroke="#222" stroke-width="0" text-anchor="start" >Omicron (BA.5)</text></g>
<rect x="599.2" y="325.3" width="18.3" height="18.3" fill="#F2F2F2"/>
<rect x="599.35" y="325.45" width="18.0" height="18.0" fill="#D9D9D9"/>
<g transform="translate(624.40,338.20) scale(0.97,1) skewX(0.1)"><text x="0" y="0" font-size="9.9" fill="#222" stroke="#222" stroke-width="0" text-anchor="start" >Other</text></g>
</svg>
</body></html>
